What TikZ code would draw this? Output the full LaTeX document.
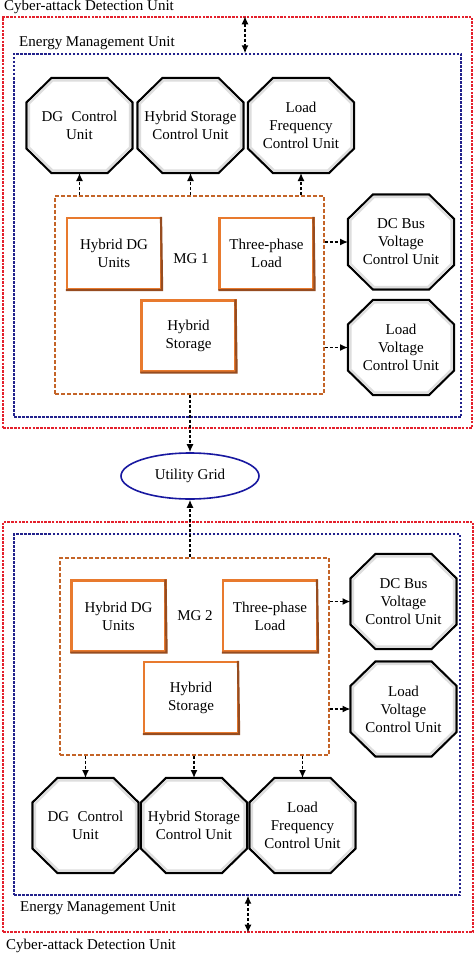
\documentclass[tikz,border=0pt]{standalone}
\usepackage{fontspec}
\setmainfont{Liberation Serif}
\usetikzlibrary{shapes.geometric,arrows.meta}
\definecolor{cyred}{RGB}{228,32,44}
\definecolor{emblue}{RGB}{34,34,140}
\definecolor{mgdash}{RGB}{196,100,40}
\definecolor{boxor}{RGB}{232,122,46}
\definecolor{boxbr}{RGB}{150,76,32}
\definecolor{ugblue}{RGB}{24,24,160}
\tikzset{
  lbl/.style={font=\fontsize{15}{18}\selectfont, inner sep=0pt},
  octo/.style={rectangle, minimum width=106pt, minimum height=95pt, inner sep=0pt, outer sep=0pt,
     align=center, font=\fontsize{15}{18}\selectfont},
  octline/.style={draw=black, line width=2.2pt, line join=miter, fill=white},
  octshade/.style={draw=black!13, line width=2.4pt, line join=miter},
  unitbox/.style={rectangle, draw=boxor, line width=2.2pt, minimum width=94pt, minimum height=71pt,
     inner sep=0pt, align=center, font=\fontsize{15}{18}\selectfont},
  unitedge/.style={draw=boxbr, line width=2.2pt},
  redframe/.style={rectangle, draw=cyred, line width=1.4pt, dash pattern=on 2.5pt off 1.2pt, inner sep=0pt},
  blueframe/.style={rectangle, draw=emblue, line width=1.3pt, dash pattern=on 2.5pt off 1.5pt, inner sep=0pt},
  mgframe/.style={rectangle, draw=mgdash, line width=1.4pt, dash pattern=on 4pt off 2pt, inner sep=0pt},
  conn/.style={draw=black, line width=1.4pt, dash pattern=on 3pt off 2pt, -{Latex[length=8pt,width=7pt]}},
  dconn/.style={draw=black, line width=1.4pt, dash pattern=on 3pt off 2pt, {Latex[length=8pt,width=7pt]}-{Latex[length=8pt,width=7pt]}},
}
% octagon outline around a named node
\newcommand\octoutline[1]{%
  \draw[octline] ([xshift=25pt]#1.north west) -- ([xshift=-25pt]#1.north east)
     -- ([yshift=-24.5pt]#1.north east) -- ([yshift=24.5pt]#1.south east)
     -- ([xshift=-25pt]#1.south east) -- ([xshift=25pt]#1.south west)
     -- ([yshift=24.5pt]#1.south west) -- ([yshift=-24.5pt]#1.north west) -- cycle;
  \draw[octshade] ([xshift=25.9pt,yshift=-2.5pt]#1.north west) -- ([xshift=-25.9pt,yshift=-2.5pt]#1.north east)
     -- ([xshift=-2.5pt,yshift=-25.4pt]#1.north east) -- ([xshift=-2.5pt,yshift=25.4pt]#1.south east)
     -- ([xshift=-25.9pt,yshift=2.5pt]#1.south east) -- ([xshift=25.9pt,yshift=2.5pt]#1.south west)
     -- ([xshift=2.5pt,yshift=25.4pt]#1.south west) -- ([xshift=2.5pt,yshift=-25.4pt]#1.north west) -- cycle;}
% darker lower/right edge of a unit box
\newcommand\unitshade[1]{%
  \draw[unitedge] ([xshift=-1.1pt]#1.north east) -- (#1.south east) -- (#1.south west);}
\newcommand\octnode[3]{%
  \node[octo] (#1) at (#2) {};
  \octoutline{#1}
  \node[octo] at (#1.center) {#3};}
\begin{document}
\begin{tikzpicture}[x=1pt,y=-1pt]
\useasboundingbox[fill=white] (0,0) rectangle (474,955);
% ---------- upper part ----------
\node[redframe, minimum width=469pt, minimum height=411pt] (red1) at (237.5,222.5) {};
\node[blueframe, minimum width=447pt, minimum height=363pt] (blue1) at (237.5,235.5) {};
\node[lbl, anchor=base west] (cdu1) at (4,10.5) {Cyber-attack Detection Unit};
\node[lbl, anchor=base west] (emu1) at (19,47) {Energy Management Unit};
\coordinate (dx1) at (245,0);
\draw[dconn] (red1.north -| dx1) -- (blue1.north -| dx1);

\octnode{dg1}{79.5,125.5}{DG\hspace{0.55em}Control\\Unit}
\octnode{hsc1}{190.5,125.5}{Hybrid Storage\\Control Unit}
\octnode{lfc1}{301,125.5}{Load\\Frequency\\Control Unit}

\node[mgframe, minimum width=269pt, minimum height=198pt] (mg1) at (189.5,295) {};
\node[unitbox] (hdg1) at (114,253.5) {Hybrid DG\\Units}; \unitshade{hdg1}
\node[unitbox] (tpl1) at (266.5,253.5) {Three-phase\\Load}; \unitshade{tpl1}
\node[unitbox] (hs1) at (188.5,336) {Hybrid\\Storage}; \unitshade{hs1}
\node[lbl] (mgl1) at (191,259) {MG 1};

\octnode{dcb1}{401,242}{DC Bus\\Voltage\\Control Unit}
\octnode{lvc1}{401,347.5}{Load\\Voltage\\Control Unit}

\draw[conn] (dg1.south |- mg1.north) -- (dg1.south);
\draw[conn] (hsc1.south |- mg1.north) -- (hsc1.south);
\draw[conn] (lfc1.south |- mg1.north) -- (lfc1.south);
\draw[conn] (mg1.east |- dcb1.west) -- (dcb1.west);
\draw[conn] (mg1.east |- lvc1.west) -- (lvc1.west);

% ---------- utility grid ----------
\node[ellipse, draw=ugblue, line width=1.6pt, minimum width=138pt, minimum height=46pt, inner sep=0pt,
      font=\fontsize{15}{18}\selectfont] (ug) at (190,476) {Utility Grid};
\draw[conn] (ug.north |- mg1.south) -- (ug.north);

% ---------- lower part ----------
\node[redframe, minimum width=470pt, minimum height=410pt] (red2) at (238,727) {};
\node[blueframe, minimum width=446pt, minimum height=361pt] (blue2) at (237,714.5) {};
\node[lbl, anchor=base west] (emu2) at (20,911) {Energy Management Unit};
\node[lbl, anchor=base west] (cdu2) at (6,949) {Cyber-attack Detection Unit};
\coordinate (dx2) at (248,0);
\draw[dconn] (blue2.south -| dx2) -- (red2.south -| dx2);

\node[mgframe, minimum width=269pt, minimum height=197pt] (mg2) at (194.5,656.5) {};
\node[unitbox] (hdg2) at (118.5,616) {Hybrid DG\\Units}; \unitshade{hdg2}
\node[unitbox] (tpl2) at (270,616) {Three-phase\\Load}; \unitshade{tpl2}
\node[unitbox] (hs2) at (191,697.5) {Hybrid\\Storage}; \unitshade{hs2}
\node[lbl] (mgl2) at (195,616) {MG 2};

\draw[conn] (ug.south |- mg2.north) -- (ug.south);

\octnode{dcb2}{403.5,601.5}{DC Bus\\Voltage\\Control Unit}
\octnode{lvc2}{403.5,709}{Load\\Voltage\\Control Unit}
\draw[conn] (mg2.east |- dcb2.west) -- (dcb2.west);
\draw[conn] (mg2.east |- lvc2.west) -- (lvc2.west);

\octnode{dg2}{85.5,825.5}{DG\hspace{0.55em}Control\\Unit}
\octnode{hsc2}{194,825.5}{Hybrid Storage\\Control Unit}
\octnode{lfc2}{302.5,825.5}{Load\\Frequency\\Control Unit}
\draw[conn] (dg2.north |- mg2.south) -- (dg2.north);
\draw[conn] (hsc2.north |- mg2.south) -- (hsc2.north);
\draw[conn] (lfc2.north |- mg2.south) -- (lfc2.north);
\end{tikzpicture}
\end{document}
